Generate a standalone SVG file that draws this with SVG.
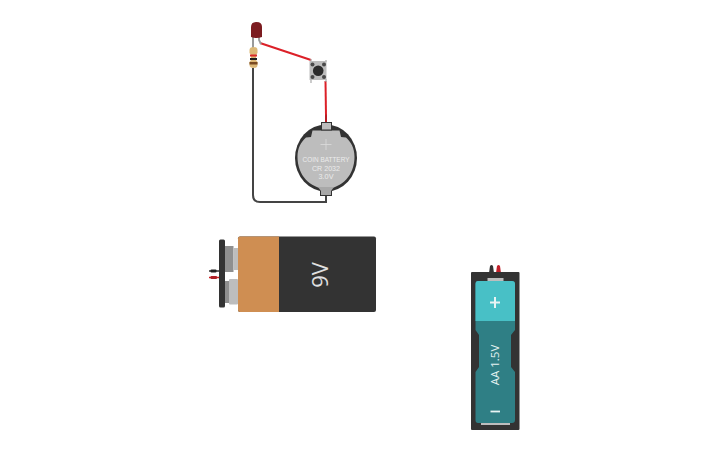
<svg xmlns="http://www.w3.org/2000/svg" width="725" height="453" viewBox="0 0 725 453">
<style>
.red{fill:none;stroke:#dc2028;stroke-width:2}
.blk{fill:none;stroke:#444;stroke-width:2}
.lab{font-family:"Open Sans","Liberation Sans",sans-serif}
.coin{font-family:"Liberation Sans",Arial,sans-serif;font-size:7.400px;fill:#ececec;text-anchor:middle}
</style>
<rect width="725" height="453" fill="#fff"/>
<g id="connectors">
<path class="red" d="M260 43L311 60"/>
<path class="red" d="M325.500 81L326 116"/>
<path class="blk" d="M253 68V195Q253 202 260 202H326V194"/>
</g>
<g id="led">
<path d="M253 35V48" stroke="#9a9a9a" stroke-width="2"/>
<path d="M259 35V40L261 44" stroke="#9a9a9a" stroke-width="1.800" fill="none"/>
<path d="M251 37V27Q251 22 256.500 22Q262 22 262 27V37Q256.500 39 251 37Z" fill="#7c1c20"/>
</g>
<g id="resistor">
<path d="M249.500 50Q249.500 47 253.500 47Q257.500 47 257.500 50V53L256 55V60L257.500 62V65Q257.500 68 253.500 68Q249.500 68 249.500 65V62L251 60V55L249.500 53Z" fill="#dcb877"/>
<rect x="250" y="54.500" width="7" height="2" fill="#d92a2a"/>
<rect x="250" y="58" width="7" height="2" fill="#1d1d1d"/>
<rect x="249.500" y="62" width="8" height="2.500" fill="#7a4a22"/>
</g>
<g id="button">
<path d="M311 59V62M326 60V62M311 79V83M326 79V82" stroke="#aaa" stroke-width="1.200"/>
<rect x="309.500" y="61" width="17" height="19" fill="#bdbdbd"/>
<circle cx="312.500" cy="64.500" r="2" fill="#4a4a4a"/>
<circle cx="324" cy="64.500" r="2" fill="#4a4a4a"/>
<circle cx="312.500" cy="77" r="2" fill="#4a4a4a"/>
<circle cx="324" cy="77" r="2" fill="#4a4a4a"/>
<circle cx="318.200" cy="70.800" r="5.300" fill="#2c2c2c"/>
</g>
<g id="coin-battery">
<path d="M325 122V116L326 113.500L327 116V122Z" fill="#b81c24"/>
<path d="M320 186H332L332 196H320Z" fill="#333"/>
<ellipse cx="326" cy="158" rx="31" ry="33.500" fill="#333"/>
<path d="M297.500 157C297.500 148 301 142 306 137.500L311 137L312.500 130.500H339.500L341 137L346 137.500C351 142 354.500 148 354.500 157C354.500 175 342 188.500 326 188.500C310 188.500 297.500 175 297.500 157Z" fill="#bdbdbd"/>
<rect x="321.500" y="122.500" width="10" height="7.500" fill="#bdbdbd" stroke="#333"/>
<path d="M318 187H334L331 191V195H321V191Z" fill="#a8a8a8"/>
<path d="M326 139V150M320.500 144.500H331.500" stroke="#dcdcdc" stroke-width="0.800"/>
<text class="coin" x="326" y="162" textLength="47" lengthAdjust="spacingAndGlyphs">COIN BATTERY</text>
<text class="coin" x="326" y="170.500" textLength="28" lengthAdjust="spacingAndGlyphs">CR 2032</text>
<text class="coin" x="326" y="179" textLength="15" lengthAdjust="spacingAndGlyphs">3.0V</text>
</g>
<g id="battery-9v">
<path d="M209 271H219" stroke="#333" stroke-width="1.500"/>
<rect x="210.500" y="269.500" width="6" height="3" rx="1" fill="#222"/>
<path d="M209 277.500H219" stroke="#c22" stroke-width="1.500"/>
<rect x="210.500" y="276" width="6.500" height="3" rx="1" fill="#b02028"/>
<rect x="225" y="246" width="8.500" height="26" fill="#8f8f8f"/>
<rect x="233.500" y="248" width="4.500" height="22" fill="#bdbdbd"/>
<rect x="225" y="281" width="4" height="22" fill="#8f8f8f"/>
<rect x="229" y="279" width="9" height="25.500" rx="1" fill="#bdbdbd"/>
<rect x="219" y="239.500" width="6" height="68" rx="1.500" fill="#333"/>
<rect x="238" y="236.500" width="138" height="75.500" rx="2" fill="#333"/>
<path d="M240 236.500H279V312H240Q238 312 238 310V238.500Q238 236.500 240 236.500Z" fill="#cf8e52"/>
<text class="lab" transform="translate(327.500 275) rotate(-90)" fill="#e0e0e0" font-size="22" font-weight="500" text-anchor="middle">9V</text>
</g>
<g id="battery-aa">
<path d="M489 273L490 266Q491.500 264 493 266L494 273Z" fill="#333"/>
<path d="M496 273L497 266Q498.500 264 500 266L501 273Z" fill="#c3202a"/>
<rect x="471" y="272" width="48.500" height="158" rx="1" fill="#333"/>
<rect x="487.500" y="278" width="16" height="3" fill="#bdbdbd"/>
<path d="M478 281H512Q515 281 515 284V330L511 335V367L515 372V420Q515 423 512 423H478Q475.500 423 475.500 420V372L479 367V335L475.500 330V284Q475.500 281 478 281Z" fill="#2f7f85"/>
<path d="M478 281H512Q515 281 515 284V321H475.500V284Q475.500 281 478 281Z" fill="#48c0c6"/>
<rect x="481" y="423" width="29" height="2" fill="#bdbdbd"/>
<path d="M495 297V308M490 302.500H500" stroke="#e8f4f4" stroke-width="2"/>
<text class="lab" transform="translate(499 365) rotate(-90)" fill="#e8f4f4" font-size="11.500" text-anchor="middle">AA 1.5V</text>
<path d="M490.500 411.500H500" stroke="#e8f4f4" stroke-width="1.800"/>
</g>
</svg>
